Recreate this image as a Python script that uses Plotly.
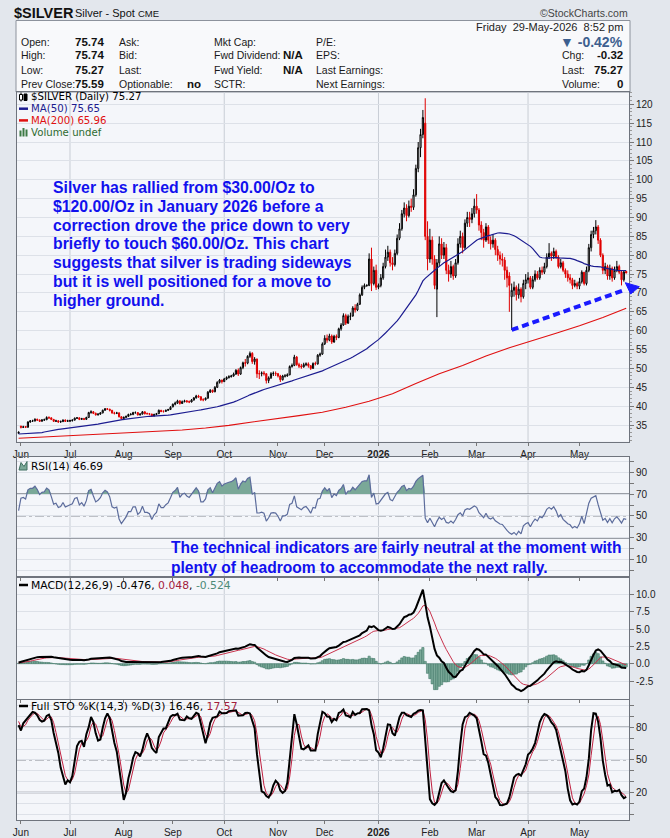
import numpy as np
import pandas as pd
import plotly.graph_objects as go
from plotly.subplots import make_subplots

# ---------------- data ----------------
# warm-up closes before the visible window (used only for indicator look-backs)
pre_close = [31.9, 32.3, 32.9, 32.6, 32.5, 32.6, 33.0, 33.5, 33.8, 33.9, 33.8, 34.0, 33.8, 33.5, 33.1,
             33.2, 33.7, 34.2, 35.0, 34.3, 34.0, 33.9, 33.9, 31.9, 29.6, 29.9, 29.5, 30.9, 30.3, 31.4,
             32.3, 32.3, 32.4, 32.3, 32.4, 32.6, 32.8, 33.5, 33.7, 33.0, 33.2, 33.0, 32.6, 32.3, 31.9,
             32.6, 33.0, 32.7, 32.4, 32.6, 32.6, 32.5, 32.5, 32.1, 32.3, 32.3, 32.3, 33.2, 33.1, 33.4,
             33.1, 33.4, 33.0]

# daily [open, high, low, close] per month
ohlc_may25 = [[32.8, 33.3, 32.7, 33.1]]
ohlc_jun25 = [[34.7, 34.8, 34.1, 34.4], [34.4, 34.8, 34.2, 34.5], [34.6, 34.7, 34.2, 34.4], [34.4, 36.0, 34.3, 35.8],
              [35.8, 36.3, 35.6, 36.1], [36.1, 36.4, 35.8, 36.1], [36.1, 36.8, 35.9, 36.5], [36.5, 36.7, 36.1, 36.3],
              [36.3, 36.5, 35.8, 36.0], [36.0, 36.6, 35.9, 36.3], [36.3, 36.7, 36.1, 36.4], [36.4, 37.3, 36.3, 37.0],
              [37.0, 37.3, 36.6, 36.9], [36.9, 37.0, 36.3, 36.5], [36.5, 36.6, 35.8, 36.0], [36.0, 36.4, 35.8, 36.1],
              [36.1, 36.3, 35.6, 35.8], [35.8, 36.2, 35.6, 35.9], [35.9, 36.5, 35.8, 36.3], [36.3, 36.5, 35.8, 36.0],
              [36.0, 36.4, 35.9, 36.1]]
ohlc_jul25 = [[36.0, 36.4, 35.8, 36.2], [36.2, 36.5, 35.9, 36.3], [36.3, 37.0, 36.2, 36.8], [36.8, 37.1, 36.6, 36.9],
              [36.9, 37.0, 36.3, 36.5], [36.5, 36.9, 36.4, 36.7], [36.7, 36.9, 36.3, 36.5], [36.5, 37.2, 36.4, 37.0],
              [37.0, 38.5, 36.9, 38.3], [38.3, 38.9, 38.0, 38.5], [38.5, 38.7, 37.9, 38.1], [38.1, 38.3, 37.5, 37.7],
              [37.7, 38.1, 37.5, 37.9], [37.9, 38.4, 37.7, 38.2], [38.2, 39.1, 38.1, 38.9], [38.9, 39.5, 38.8, 39.3],
              [39.3, 39.5, 39.0, 39.2], [39.2, 39.3, 38.6, 38.9], [38.9, 39.0, 38.0, 38.2], [38.2, 38.5, 37.8, 38.1],
              [38.1, 38.5, 37.9, 38.2], [38.2, 38.4, 37.0, 37.2], [37.2, 37.3, 36.5, 36.7]]
ohlc_aug25 = [[36.7, 37.3, 36.3, 37.0], [37.0, 37.5, 36.9, 37.3], [37.3, 38.0, 37.2, 37.8], [37.8, 38.2, 37.5, 37.8],
              [37.8, 38.5, 37.6, 38.3], [38.3, 38.6, 38.0, 38.3], [38.3, 38.4, 37.5, 37.7], [37.7, 38.1, 37.5, 37.9],
              [37.9, 38.7, 37.8, 38.5], [38.5, 38.6, 37.8, 38.0], [38.0, 38.3, 37.8, 38.0], [38.0, 38.2, 37.6, 37.9],
              [37.9, 38.0, 37.2, 37.4], [37.4, 38.0, 37.3, 37.8], [37.8, 38.2, 37.6, 38.0], [38.0, 39.1, 37.9, 38.9],
              [38.9, 39.0, 38.4, 38.6], [38.6, 38.9, 38.3, 38.6], [38.6, 39.1, 38.5, 38.9], [38.9, 39.3, 38.7, 39.1],
              [39.1, 40.0, 39.0, 39.7]]
ohlc_sep25 = [[39.8, 40.7, 39.7, 40.5], [40.5, 41.2, 40.2, 40.8], [40.8, 41.7, 40.6, 41.4], [41.4, 41.5, 40.4, 40.7],
              [40.7, 41.5, 40.6, 41.2], [41.2, 41.7, 41.0, 41.4], [41.4, 41.6, 40.9, 41.2], [41.2, 41.5, 40.8, 41.1],
              [41.1, 41.9, 41.0, 41.6], [41.6, 42.4, 41.5, 42.2], [42.2, 43.0, 42.0, 42.7], [42.7, 43.0, 42.2, 42.5],
              [42.5, 42.6, 41.4, 41.7], [41.7, 42.1, 41.3, 41.7], [41.7, 42.3, 41.5, 42.1], [42.1, 44.0, 42.0, 43.7],
              [43.7, 44.5, 43.5, 44.2], [44.2, 44.4, 43.5, 43.8], [43.8, 45.3, 43.7, 45.0], [45.0, 46.6, 44.8, 46.3],
              [46.3, 47.2, 46.0, 46.9], [46.9, 47.0, 46.0, 46.5]]
ohlc_oct25 = [[46.5, 47.5, 46.4, 47.2], [47.2, 47.9, 46.9, 47.6], [47.6, 48.2, 47.3, 47.8], [47.8, 48.3, 47.6, 48.0],
              [48.0, 48.9, 47.8, 48.5], [48.5, 49.8, 48.3, 49.5], [49.5, 50.0, 48.0, 48.5], [48.5, 50.5, 48.3, 50.2],
              [50.2, 51.8, 49.8, 51.5], [51.5, 52.5, 50.5, 51.4], [51.4, 53.5, 51.1, 53.2], [53.2, 54.5, 52.8, 54.0],
              [54.0, 54.3, 51.2, 51.8], [51.8, 53.0, 51.0, 52.5], [52.5, 52.6, 47.5, 48.6], [48.6, 49.5, 47.2, 48.6],
              [48.6, 49.2, 47.9, 48.8], [48.8, 49.3, 48.1, 48.6], [48.6, 48.7, 46.0, 46.8], [46.8, 47.9, 46.1, 47.5],
              [47.5, 49.0, 47.2, 48.6], [48.6, 49.2, 48.0, 48.7], [48.7, 49.2, 48.0, 48.6]]
ohlc_nov25 = [[48.6, 48.8, 47.6, 48.0], [48.0, 48.3, 46.4, 47.0], [47.0, 48.3, 46.8, 48.0], [48.0, 48.5, 47.6, 48.0],
              [48.0, 48.7, 47.8, 48.3], [48.3, 50.8, 48.2, 50.5], [50.5, 51.3, 50.2, 50.8], [50.8, 53.6, 50.6, 53.0],
              [53.0, 53.3, 50.7, 51.0], [51.0, 51.5, 50.1, 50.6], [50.6, 51.2, 49.9, 50.4], [50.4, 51.5, 50.2, 51.0],
              [51.0, 51.6, 50.6, 51.2], [51.2, 51.6, 50.2, 50.7], [50.7, 50.9, 49.6, 50.0], [50.0, 51.6, 49.9, 51.3],
              [51.3, 51.8, 50.8, 51.2], [51.2, 53.8, 51.0, 53.5], [53.5, 54.2, 53.1, 53.8], [53.8, 56.9, 53.6, 56.5]]
ohlc_dec25 = [[56.5, 58.8, 56.2, 58.0], [58.0, 59.0, 56.8, 57.5], [57.5, 59.2, 57.2, 58.6], [58.6, 59.0, 56.5, 57.0],
              [57.0, 58.9, 56.8, 58.5], [58.5, 59.0, 57.5, 58.2], [58.2, 60.8, 58.0, 60.5], [60.5, 62.0, 60.0, 61.5],
              [61.5, 64.6, 61.3, 64.0], [64.0, 64.5, 61.5, 62.0], [62.0, 64.3, 61.8, 63.8], [63.8, 64.8, 62.8, 63.9],
              [63.9, 66.5, 63.7, 66.0], [66.0, 67.0, 64.8, 65.5], [65.5, 67.4, 65.2, 67.0], [67.0, 69.9, 66.8, 69.5],
              [69.5, 72.0, 69.2, 71.5], [71.5, 72.5, 71.0, 72.0], [72.0, 72.3, 71.6, 72.0], [72.0, 80.5, 71.8, 79.0],
              [79.0, 82.0, 70.5, 72.5], [72.5, 77.0, 72.0, 76.0], [76.0, 77.5, 70.8, 71.5]]
ohlc_jan26 = [[71.5, 72.5, 71.0, 72.0], [72.0, 75.0, 71.5, 74.0], [74.0, 78.0, 73.5, 77.0], [77.0, 81.5, 76.5, 79.5],
              [79.5, 82.5, 78.5, 80.8], [80.8, 81.5, 77.0, 78.0], [78.0, 79.5, 76.0, 77.5], [77.5, 81.5, 77.0, 80.5],
              [80.5, 85.5, 80.0, 84.5], [84.5, 88.5, 84.0, 87.0], [87.0, 92.0, 86.5, 91.0], [91.0, 94.0, 90.0, 92.5],
              [92.5, 93.5, 89.0, 90.5], [90.5, 94.5, 90.0, 93.0], [93.0, 95.0, 91.5, 92.7], [92.7, 97.5, 92.0, 96.0],
              [96.0, 104.0, 95.5, 103.0], [103.0, 110.0, 102.0, 108.5], [108.5, 113.5, 106.0, 112.0],
              [112.0, 118.5, 111.0, 116.5], [115.0, 121.6, 84.0, 85.0], [85.0, 89.0, 76.0, 79.0]]
ohlc_feb26 = [[79.0, 87.0, 78.0, 84.0], [84.0, 85.0, 77.5, 79.0], [79.0, 80.0, 71.0, 72.0], [71.0, 79.0, 63.6, 78.0],
              [78.0, 85.0, 77.0, 83.0], [83.0, 84.5, 79.0, 80.0], [80.0, 83.5, 79.0, 82.0], [82.0, 83.0, 75.0, 76.0],
              [76.0, 77.5, 73.0, 75.0], [75.0, 78.5, 74.0, 77.0], [77.0, 77.5, 73.5, 74.5], [74.5, 79.0, 74.0, 78.0],
              [78.0, 84.5, 77.5, 83.0], [83.0, 86.5, 82.0, 85.0], [85.0, 86.0, 80.5, 82.0], [82.0, 89.5, 81.5, 88.5],
              [88.5, 91.5, 87.5, 90.0], [90.0, 91.5, 87.5, 89.5], [89.5, 92.5, 88.5, 91.0], [91.0, 95.0, 90.0, 93.0]]
ohlc_mar26 = [[93.0, 96.2, 91.0, 92.0], [92.0, 92.5, 86.5, 88.0], [88.0, 89.0, 84.0, 86.0], [86.0, 87.0, 82.0, 84.0],
              [84.0, 88.5, 83.5, 87.5], [87.5, 88.0, 83.0, 84.0], [84.0, 85.0, 81.5, 83.0], [83.0, 85.5, 82.0, 84.0],
              [84.0, 84.5, 80.0, 81.5], [81.5, 82.5, 78.5, 80.0], [80.0, 81.0, 77.5, 79.0], [79.0, 80.5, 77.0, 78.7],
              [78.7, 79.5, 73.5, 76.0], [76.0, 77.0, 71.5, 74.0], [74.5, 75.5, 65.0, 72.0], [69.0, 72.5, 60.2, 70.7],
              [70.7, 73.0, 69.0, 71.5], [71.5, 72.0, 68.0, 69.5], [69.5, 72.5, 68.5, 71.0], [71.0, 71.5, 67.5, 69.0],
              [69.0, 73.5, 68.5, 72.5], [72.5, 75.0, 71.0, 73.5]]
ohlc_apr26 = [[73.5, 75.5, 72.5, 74.0], [74.0, 74.5, 71.0, 71.5], [71.5, 74.5, 71.0, 73.5], [73.5, 76.0, 73.0, 75.0],
              [75.0, 75.8, 73.5, 74.0], [74.0, 76.8, 73.5, 76.0], [76.0, 77.0, 74.8, 75.5], [75.5, 78.0, 75.0, 77.0],
              [77.0, 80.5, 76.5, 79.5], [79.5, 83.2, 79.0, 80.5], [80.5, 81.0, 78.5, 79.8], [79.8, 82.0, 79.0, 81.0],
              [81.0, 81.5, 79.0, 79.5], [79.5, 80.0, 76.5, 77.0], [77.0, 79.0, 76.5, 78.0], [78.0, 78.5, 75.5, 76.0],
              [76.0, 76.5, 74.0, 75.0], [75.0, 76.0, 73.0, 74.0], [74.0, 75.0, 72.5, 73.5], [73.5, 74.0, 71.0, 72.0],
              [72.0, 73.5, 71.5, 72.5], [72.5, 73.0, 71.0, 71.8]]
ohlc_may26 = [[71.8, 74.0, 71.0, 73.0], [73.0, 76.0, 72.5, 75.5], [75.5, 75.5, 72.0, 72.5], [72.5, 77.0, 72.0, 76.0],
              [76.0, 83.0, 75.5, 82.0], [82.0, 86.5, 81.0, 85.5], [85.5, 87.5, 84.5, 86.5], [86.5, 89.3, 85.5, 87.5],
              [87.5, 88.0, 83.0, 84.0], [84.0, 84.5, 79.5, 80.0], [80.0, 80.5, 75.0, 76.0], [76.0, 78.0, 75.0, 77.0],
              [77.0, 77.5, 73.5, 74.5], [74.5, 77.5, 73.5, 76.5], [76.5, 77.0, 73.0, 74.0], [74.0, 77.0, 73.5, 76.0],
              [76.0, 78.5, 75.5, 77.0], [77.0, 77.5, 75.0, 75.5], [75.5, 76.0, 72.0, 73.5], [73.5, 76.0, 73.0, 75.59],
              [75.74, 75.74, 75.27, 75.27]]

# 200-day moving average read every 10 trading days
ma200_every = 10
ma200_vals = [31.5, 31.8, 32.1, 32.4, 32.7, 33.0, 33.3, 33.7, 34.2, 34.9, 35.8, 36.6, 37.5, 38.4,
              39.7, 41.3, 43.3, 46.0, 48.6, 50.8, 53.3, 55.5, 57.3, 59.3, 61.3, 63.5, 65.96]

month_labels = ["Jun", "Jul", "Aug", "Sep", "Oct", "Nov", "Dec", "<b>2026</b>", "Feb", "Mar", "Apr", "May"]
quarter_dates = ["2025-07-01", "2025-10-01", "2026-01-01", "2026-04-01"]
price_ticks = [35, 40, 45, 50, 55, 60, 65, 70, 75, 80, 85, 90, 95, 100, 105, 110, 115, 120]

note_price = ["Silver has rallied from $30.00/Oz to",
              "$120.00/Oz in January 2026 before a",
              "correction drove the price down to very",
              "briefly to touch $60.00/Oz. This chart",
              "suggests that silver is trading sideways",
              "but it is well positioned for a move to",
              "higher ground."]
note_rsi = ["The technical indicators are fairly neutral at the moment with",
            "plenty of headroom to accommodate the next rally."]

# ---------------- build series ----------------
rows = (ohlc_may25 + ohlc_jun25 + ohlc_jul25 + ohlc_aug25 + ohlc_sep25 + ohlc_oct25 + ohlc_nov25 +
        ohlc_dec25 + ohlc_jan26 + ohlc_feb26 + ohlc_mar26 + ohlc_apr26 + ohlc_may26)
dates = pd.bdate_range("2025-05-30", "2026-05-29").strftime("%Y-%m-%d").tolist()
n = len(dates)
assert len(rows) == n, (len(rows), n)
open_ = [r[0] for r in rows]
high = [r[1] for r in rows]
low = [r[2] for r in rows]
close = [r[3] for r in rows]

k0 = len(pre_close)
s = pd.Series(pre_close + close)
hs = pd.Series(pre_close + high)
ls = pd.Series(pre_close + low)
ma50 = s.rolling(50).mean().iloc[k0:].to_numpy()
dlt = s.diff()
au = dlt.clip(lower=0).ewm(alpha=1 / 14, adjust=False).mean()
ad = (-dlt).clip(lower=0).ewm(alpha=1 / 14, adjust=False).mean()
rsi = (100 - 100 / (1 + au / ad)).iloc[k0:].to_numpy()
macd_full = s.ewm(span=12, adjust=False).mean() - s.ewm(span=26, adjust=False).mean()
sig_full = macd_full.ewm(span=9, adjust=False).mean()
macd = macd_full.iloc[k0:].to_numpy()
sig = sig_full.iloc[k0:].to_numpy()
hist = macd - sig
hh = hs.rolling(14).max()
ll = ls.rolling(14).min()
fastk = 100 * (s - ll) / (hh - ll)
fullk_s = fastk.rolling(3).mean()
stok = fullk_s.iloc[k0:].to_numpy()
stod = fullk_s.rolling(3).mean().iloc[k0:].to_numpy()

month_starts = []
prev = dates[0][:7]
for d in dates[1:]:
    if d[:7] != prev:
        month_starts.append(d)
        prev = d[:7]

ma200_x = [dates[i] for i in range(0, n, ma200_every)]

# ---------------- layout geometry ----------------
W, H = 670, 838
ML, MR, MT, MB = 17, 41, 92, 18
PW, PH = W - ML - MR, H - MT - MB
BOT = H - MB


def px(x):
    return (x - ML) / PW


def py(y):
    return (BOT - y) / PH


SANS = "Liberation Sans, Arial, sans-serif"
VER = "DejaVu Sans, Verdana, sans-serif"
BLUE = "#1111ee"
TEAL = "#7aa898"
PANEL = "#f4f6fa"
GRID = "#dde1e8"
BORDER = "#6f747d"

fig = make_subplots(rows=4, cols=1, shared_xaxes=True, vertical_spacing=0.0)

fig.add_trace(go.Candlestick(x=dates, open=open_, high=high, low=low, close=close,
                             increasing=dict(line=dict(color="#000000", width=1), fillcolor=PANEL),
                             decreasing=dict(line=dict(color="#e00000", width=1), fillcolor="#e00000"),
                             whiskerwidth=0, hoverinfo="skip"), row=1, col=1)
fig.add_trace(go.Scatter(x=ma200_x, y=ma200_vals, mode="lines", line=dict(color="#e01010", width=1.1),
                         hoverinfo="skip"), row=1, col=1)
fig.add_trace(go.Scatter(x=dates, y=ma50, mode="lines", line=dict(color="#1c1c90", width=1.2),
                         hoverinfo="skip"), row=1, col=1)

# RSI
fig.add_trace(go.Scatter(x=dates, y=[70] * n, mode="lines", line=dict(width=0), hoverinfo="skip"), row=2, col=1)
fig.add_trace(go.Scatter(x=dates, y=np.maximum(rsi, 70), mode="lines", line=dict(width=0), fill="tonexty",
                         fillcolor=TEAL, hoverinfo="skip"), row=2, col=1)
fig.add_trace(go.Scatter(x=dates, y=rsi, mode="lines", line=dict(color="#5c6c9c", width=1.2),
                         hoverinfo="skip"), row=2, col=1)

# MACD
fig.add_trace(go.Bar(x=dates, y=hist, marker=dict(color=TEAL, line=dict(color="#427868", width=0.6)),
                     hoverinfo="skip"), row=3, col=1)
fig.add_trace(go.Scatter(x=dates, y=sig, mode="lines", line=dict(color="#c8324c", width=1),
                         hoverinfo="skip"), row=3, col=1)
fig.add_trace(go.Scatter(x=dates, y=macd, mode="lines", line=dict(color="#000000", width=2),
                         hoverinfo="skip"), row=3, col=1)

# Stochastic
fig.add_trace(go.Scatter(x=dates, y=stod, mode="lines", line=dict(color="#c02040", width=1),
                         hoverinfo="skip"), row=4, col=1)
fig.add_trace(go.Scatter(x=dates, y=stok, mode="lines", line=dict(color="#000000", width=2),
                         hoverinfo="skip"), row=4, col=1)

fig.update_layout(width=W, height=H, margin=dict(l=ML, r=MR, t=MT, b=MB, pad=0, autoexpand=False),
                  paper_bgcolor="#e3e7ed", plot_bgcolor=PANEL, showlegend=False, bargap=0.05,
                  hovermode=False)

xcommon = dict(type="category", range=[-0.68, 261.2], tickmode="array", tickvals=month_starts,
               ticktext=month_labels, ticks="outside", ticklen=3, tickcolor="#777",
               showgrid=False, showline=True, mirror=True, linecolor=BORDER, linewidth=1,
               tickfont=dict(family=SANS, size=10, color="#222"), rangeslider=dict(visible=False),
               fixedrange=True, automargin=False)
for i in range(1, 5):
    name = "xaxis" if i == 1 else f"xaxis{i}"
    fig.layout[name].update(**xcommon)
    fig.layout[name].showticklabels = i in (1, 4)

ycommon = dict(side="right", ticks="outside", ticklen=4, tickcolor="#777", showgrid=True, gridcolor=GRID,
               zeroline=False, showline=True, mirror=True, linecolor=BORDER, linewidth=1,
               tickfont=dict(family=SANS, size=10, color="#222"), fixedrange=True, automargin=False)
fig.layout.yaxis.update(**ycommon, domain=[py(441.7), 1.0], range=[30.58, 123.26], tickmode="array",
                        tickvals=price_ticks,
                        minor=dict(dtick=1, ticks="outside", ticklen=2, tickcolor="#999", showgrid=False))
fig.layout.yaxis2.update(**ycommon, domain=[py(576.5), py(457)], range=[-5.2, 103.8], tickmode="array",
                         tickvals=list(range(0, 101, 10)),
                         ticktext=["", "10", "", "30", "", "50", "", "70", "", "90", ""])
fig.layout.yaxis3.update(**ycommon, domain=[py(699), py(577.3)], range=[-5.1, 12.49], tickmode="array",
                         tickvals=[-2.5, 0, 2.5, 5, 7.5, 10],
                         ticktext=["-2.5", "0.0", "2.5", "5.0", "7.5", "10.0"])
fig.layout.yaxis4.update(**ycommon, domain=[0, py(699.5)], range=[-5.2, 105.6], tickmode="array",
                         tickvals=list(range(0, 101, 10)),
                         ticktext=["", "", "20", "", "", "50", "", "", "80", "", ""])

shapes = []
# info box
shapes.append(dict(type="rect", xref="paper", yref="paper", x0=px(16), x1=px(630), y0=py(92), y1=py(20.5),
                   fillcolor="#f8f9fb", line=dict(color="#8c929c", width=1), layer="below"))
# quarter gridlines
for ax in range(1, 5):
    xr = "x" if ax == 1 else f"x{ax}"
    yr = "y domain" if ax == 1 else f"y{ax} domain"
    for q in quarter_dates:
        shapes.append(dict(type="line", xref=xr, yref=yr, x0=q, x1=q, y0=0, y1=1,
                           line=dict(color="#c8cdd5", width=1), layer="below"))
# reference lines
for ax, lv in ((2, 70), (2, 30), (4, 80), (4, 20)):
    shapes.append(dict(type="line", xref=f"x{ax} domain", yref=f"y{ax}", x0=0, x1=1, y0=lv, y1=lv,
                       line=dict(color="#7d818a", width=1.5), layer="below"))
for ax in (2, 4):
    shapes.append(dict(type="line", xref=f"x{ax} domain", yref=f"y{ax}", x0=0, x1=1, y0=50, y1=50,
                       line=dict(color="#80848c", width=1, dash="dashdot"), layer="below"))
# dotted support line + arrow head
shapes.append(dict(type="line", xref="x", yref="y", x0=211, y0=60.2, x1=259.8, y1=70.9,
                   line=dict(color="#1a1aff", width=4, dash="7px,4px")))
shapes.append(dict(type="path", xref="paper", yref="paper",
                   path=f"M {px(625.3)} {py(282.7)} L {px(639.3)} {py(286.7)} L {px(630.7)} {py(294)} Z",
                   fillcolor="#1a1aff", line=dict(color="#1a1aff", width=1)))
# legend icons
leg_y = [97.0, 108.7, 120.4, 132.1]
icon_lines = [(leg_y[1], "#1c1c90"), (leg_y[2], "#e01010"), (585, "#000000"), (706, "#000000")]
for yy, col in icon_lines:
    shapes.append(dict(type="line", xref="paper", yref="paper", x0=px(19), x1=px(28), y0=py(yy), y1=py(yy),
                       line=dict(color=col, width=2.5)))
# candle icon
shapes.append(dict(type="line", xref="paper", yref="paper", x0=px(21), x1=px(21), y0=py(101.5), y1=py(92.5),
                   line=dict(color="#000", width=1)))
shapes.append(dict(type="rect", xref="paper", yref="paper", x0=px(19.5), x1=px(22.5), y0=py(100), y1=py(94.5),
                   fillcolor="#ffffff", line=dict(color="#000", width=1)))
shapes.append(dict(type="rect", xref="paper", yref="paper", x0=px(24), x1=px(27), y0=py(100.5), y1=py(94),
                   fillcolor="#000", line=dict(color="#000", width=1)))
# volume icon
for x0, top in ((19.5, 130.5), (22.5, 128), (25.5, 129.5)):
    shapes.append(dict(type="rect", xref="paper", yref="paper", x0=px(x0), x1=px(x0 + 2), y0=py(136.5),
                       y1=py(top), fillcolor="#3d7a45", line=dict(width=0)))
# RSI icon
shapes.append(dict(type="path", xref="paper", yref="paper",
                   path=f"M {px(19)} {py(470)} L {px(21)} {py(462.5)} L {px(24)} {py(466.5)} L {px(27)} {py(461.5)} "
                        f"L {px(27)} {py(470)} Z",
                   fillcolor=TEAL, line=dict(color="#3f6f60", width=1)))
fig.update_layout(shapes=shapes)

ann = []


def T(x, y, text, size=10.5, color="#1a1a1a", anchor="left", family=SANS, h=None):
    a = dict(xref="paper", yref="paper", x=px(x), y=py(y), text=text, showarrow=False,
             xanchor=anchor, yanchor="middle", font=dict(family=family, size=size, color=color),
             borderpad=0)
    if h is not None:
        a["height"] = h
    ann.append(a)


# header
T(13, 13, "<b>$SILVER</b>", 14.5, "#111")
T(74, 13.5, "Silver - Spot", 11, "#111")
T(137, 14, "CME", 9.5, "#111")
T(629, 13, "©StockCharts.com", 10.5, "#444", "right")
# quote box
T(624, 26.5, "Friday\u00a0\u00a029-May-2026\u00a0\u00a08:52 pm", 11, "#222", "right")
rowy = [41.7, 55.5, 69.5, 83.5]
for lab, val, yy in zip(["Open:", "High:", "Low:", "Prev Close:"], ["75.74", "75.74", "75.27", "75.59"], rowy):
    T(20, yy, lab)
    T(105, yy, f"<b>{val}</b>", 11.5, "#111", "right")
for lab, yy in zip(["Ask:", "Bid:", "Last:", "Optionable:"], rowy):
    T(118, yy, lab)
T(202, rowy[3], "<b>no</b>", 11.5, "#111", "right")
for lab, yy in zip(["Mkt Cap:", "Fwd Dividend:", "Fwd Yield:", "SCTR:"], rowy):
    T(213, yy, lab)
T(304, rowy[1], "<b>N/A</b>", 11.5, "#111", "right")
T(304, rowy[2], "<b>N/A</b>", 11.5, "#111", "right")
for lab, yy in zip(["P/E:", "EPS:", "Last Earnings:", "Next Earnings:"], rowy):
    T(315, yy, lab)
T(624, rowy[0], "<b>▼ -0.42%</b>", 14, "#3d5f8f", "right")
for lab, val, yy in zip(["Chg:", "Last:", "Volume:"], ["-0.32", "75.27", "0"], rowy[1:]):
    T(561, yy, lab)
    T(624, yy, f"<b>{val}</b>", 11.5, "#111", "right")
# panel labels
T(30, leg_y[0], "$SILVER (Daily) 75.27", 10.2, "#000", family=VER, h=11)
T(30, leg_y[1], "MA(50) 75.65", 10.2, "#1c1c90", family=VER, h=11)
T(30, leg_y[2], "MA(200) 65.96", 10.2, "#e01010", family=VER, h=11)
T(30, leg_y[3], "Volume undef", 10.2, "#2e6b30", family=VER, h=11)
T(30, 466, "RSI(14) 46.69", 10.5, "#000", family=VER, h=11)
T(30, 585, "MACD(12,26,9) -0.476, <span style='color:#a3203c'>0.048</span>, "
           "<span style='color:#4d8a78'>-0.524</span>", 10.8, "#000", family=VER, h=11)
T(30, 706, "Full STO %K(14,3) %D(3) 16.46, <span style='color:#a3203c'>17.57</span>", 10.8, "#000",
  family=VER, h=11)
# notes
for j, line in enumerate(note_price):
    T(52, 187.2 + 18.9 * j, f"<b>{line}</b>", 15.8, BLUE, h=18.5)
for j, line in enumerate(note_rsi):
    T(170, 548.3 + 20 * j, f"<b>{line}</b>", 15.6, BLUE, h=19.5)
fig.update_layout(annotations=ann)

fig.write_html("out.html", config={"displayModeBar": False, "staticPlot": True})
